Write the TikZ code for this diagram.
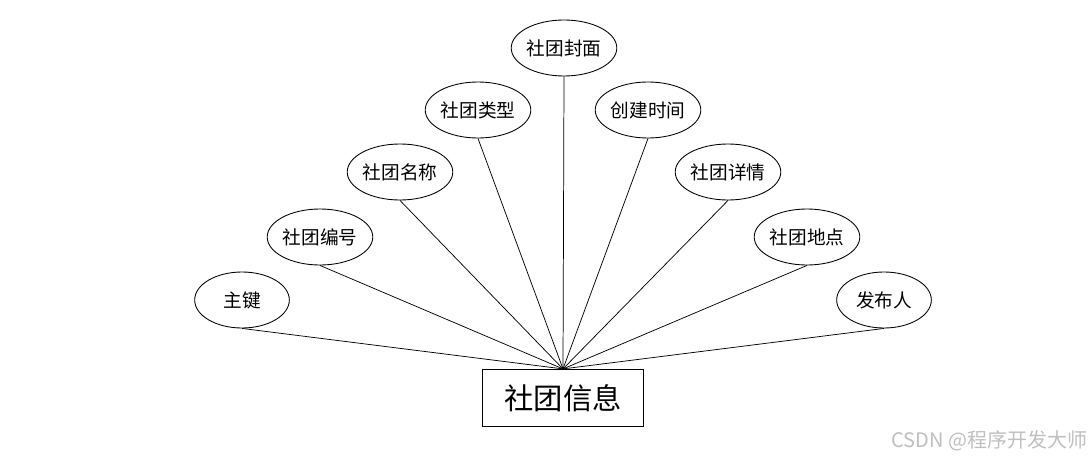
\documentclass[tikz,border=0pt]{standalone}
\usepackage{fontspec}
\setmainfont{Noto Sans CJK SC}
\usepackage{tikz}
\usetikzlibrary{shapes.geometric}

\begin{document}
\begin{tikzpicture}[
  x=0.75pt, y=-0.75pt,
  attr/.style={
    draw,
    ellipse,
    line width=0.65pt,
    inner sep=0pt,
    minimum width=71pt,
    minimum height=42pt,
    font=\fontsize{14}{16}\selectfont
  },
  entity/.style={
    draw,
    line width=0.65pt,
    minimum width=121pt,
    minimum height=43pt,
    font=\fontsize{22}{24}\selectfont
  },
  link/.style={line width=0.55pt},
  watermark/.style={text=black!25, font=\fontsize{15}{16}\selectfont, anchor=east}
]
\useasboundingbox (0,0) rectangle (1092,460);

\node[entity] (info) at (563,398) {社团信息};

\node[attr] (key) at (242,300) {主键};
\node[attr] (num) at (320,237) {社团编号};
\node[attr] (name) at (400,172) {社团名称};
\node[attr] (type) at (478,110) {社团类型};
\node[attr] (cover) at (564,48) {社团封面};
\node[attr] (time) at (648,110) {创建时间};
\node[attr] (detail) at (728,172) {社团详情};
\node[attr] (place) at (807,237) {社团地点};
\node[attr] (author) at (884,300) {发布人};

\draw[link] (key.south) -- (info.north);
\draw[link] (num.south) -- (info.north);
\draw[link] (name.south) -- (info.north);
\draw[link] (type.south) -- (info.north);
\draw[link] (cover.south) -- (info.north);
\draw[link] (time.south) -- (info.north);
\draw[link] (detail.south) -- (info.north);
\draw[link] (place.south) -- (info.north);
\draw[link] (author.south) -- (info.north);

\node[watermark] (wm) at (1092,441) {CSDN @程序开发大师};
\end{tikzpicture}
\end{document}
